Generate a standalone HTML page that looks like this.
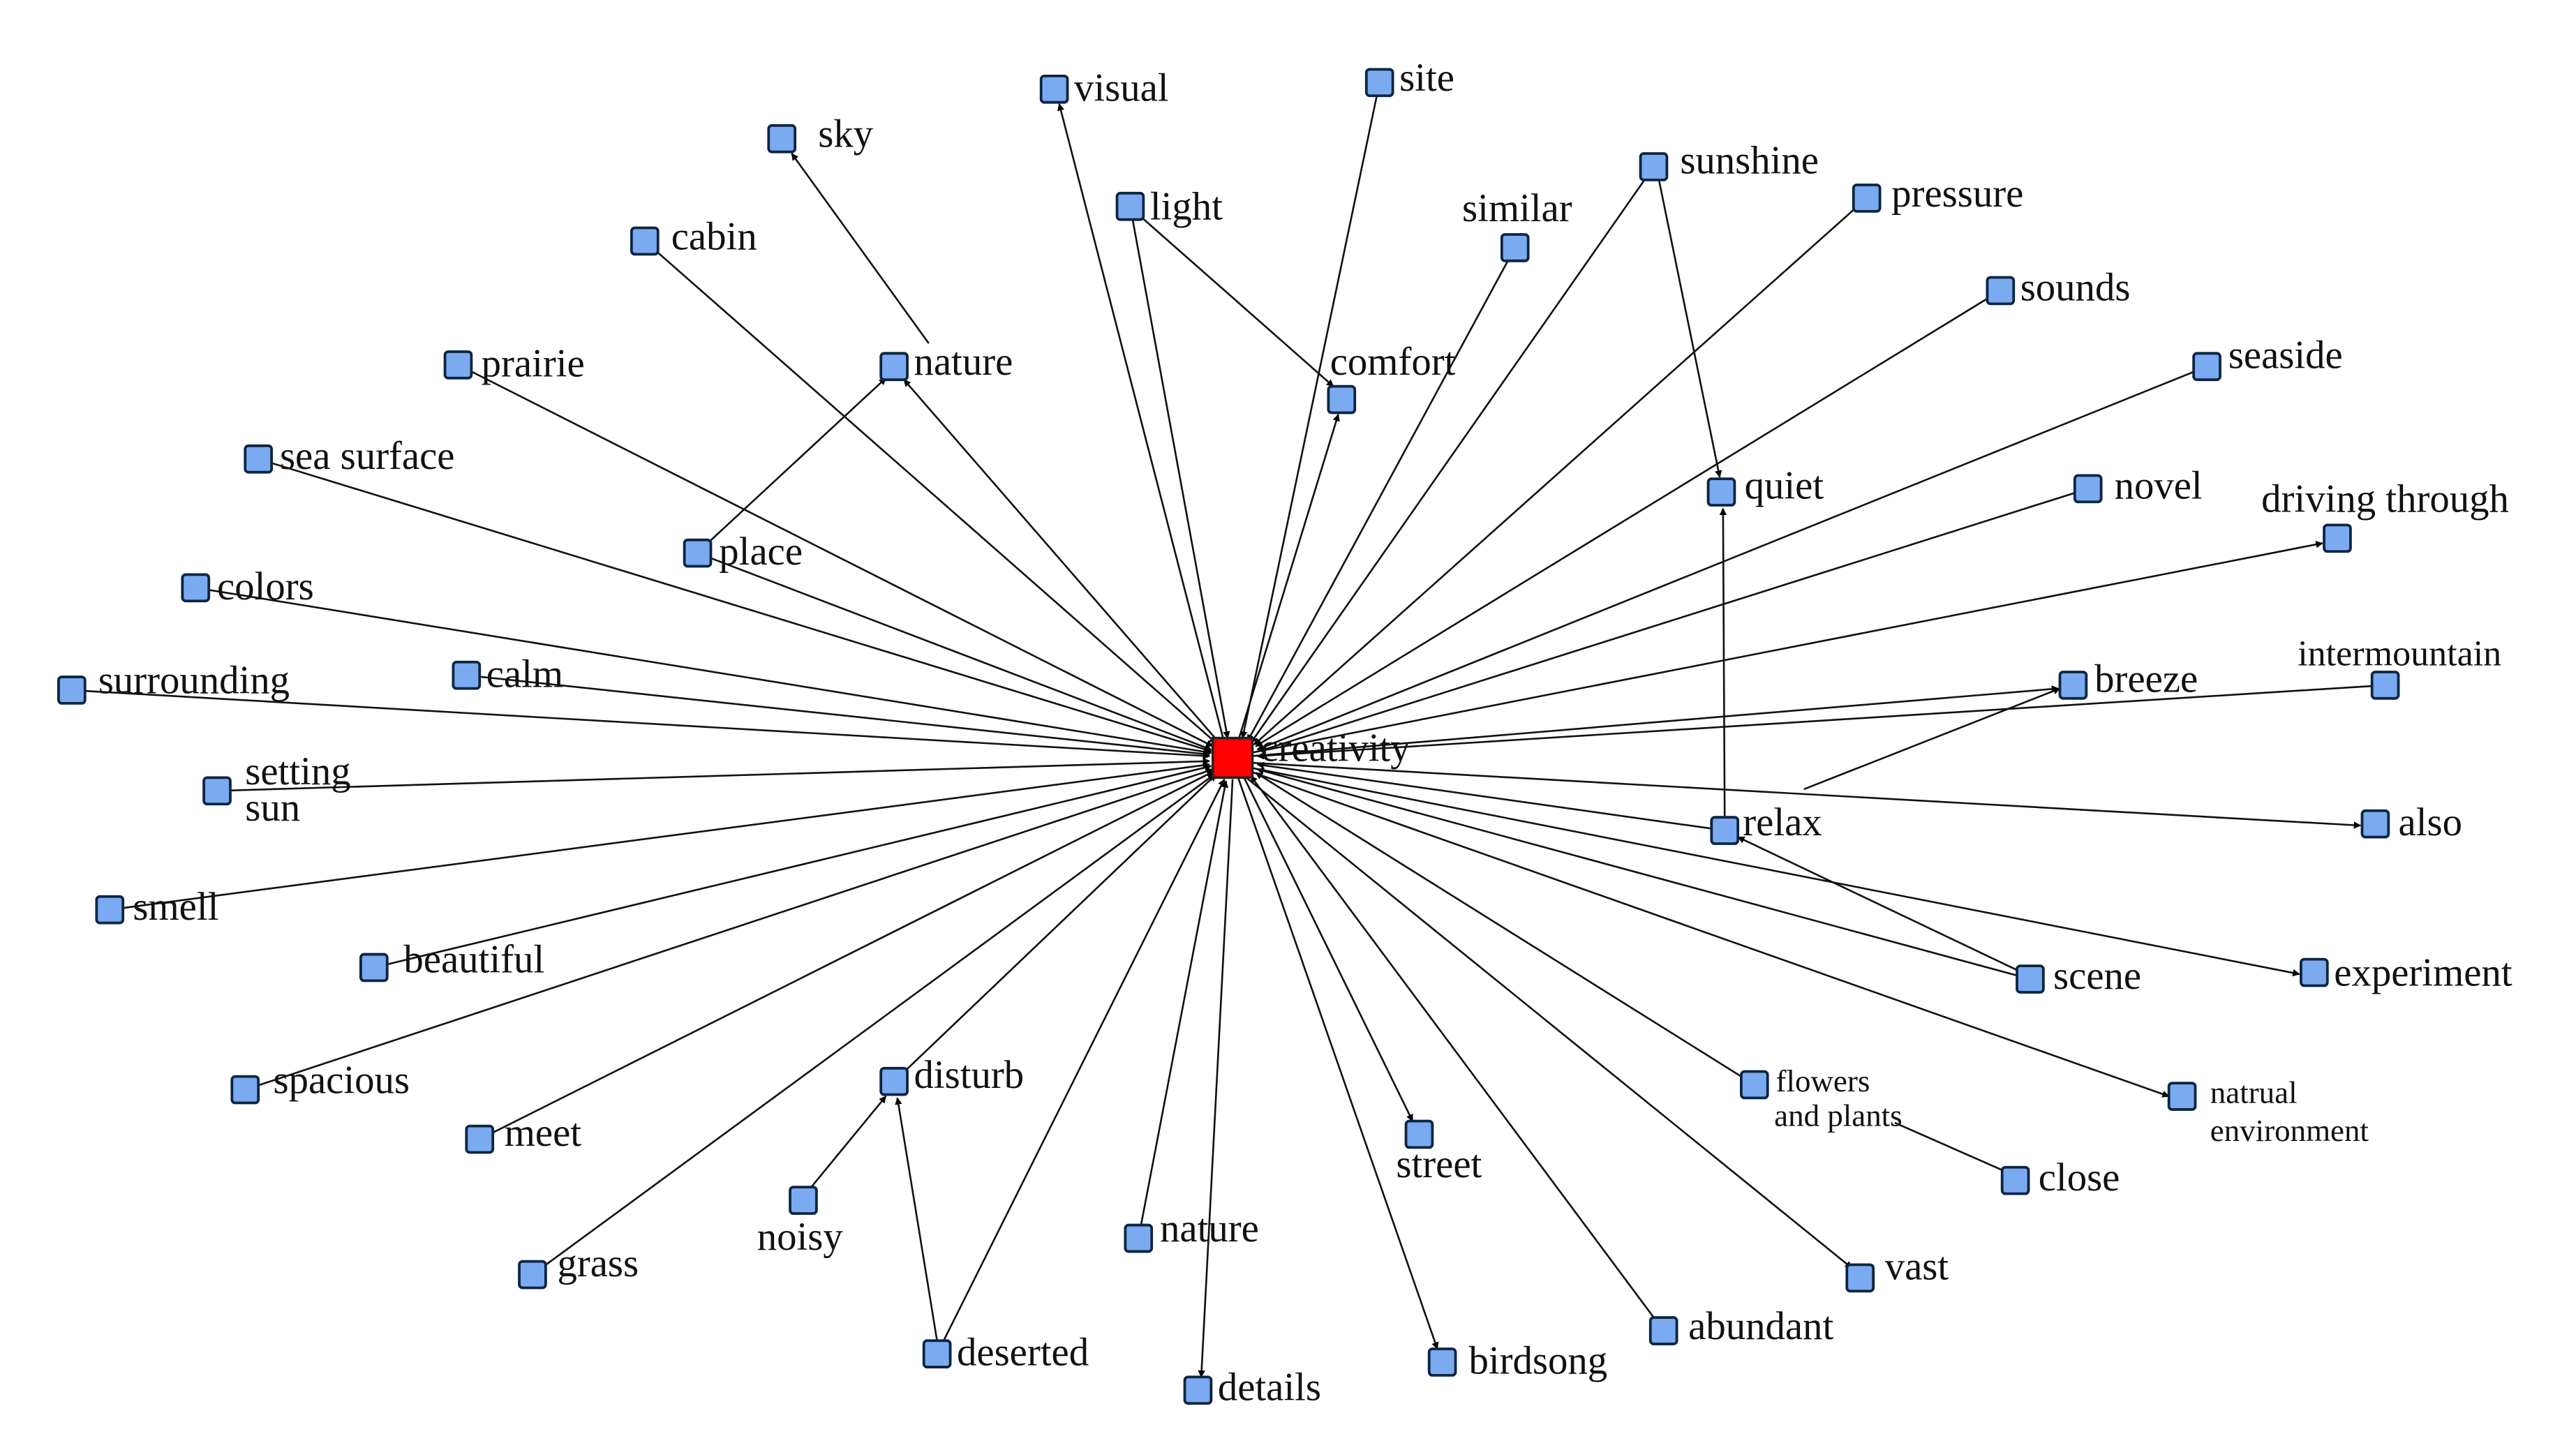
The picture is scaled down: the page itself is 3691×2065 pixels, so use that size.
<!DOCTYPE html>
<html><head><meta charset="utf-8"><style>
html,body{margin:0;padding:0;background:#fff;width:3691px;height:2065px;overflow:hidden}
svg{display:block}
text{font-family:"Liberation Serif",serif;font-size:24px;fill:#111}
</style></head><body>
<svg width="3691" height="2065" viewBox="0 0 3691 2065">
<defs>
<marker id="a" viewBox="0 0 10 10" refX="9" refY="5" markerWidth="4" markerHeight="4" orient="auto"><path d="M0,0L10,5L0,10z" fill="#000"/></marker>
</defs>
<g transform="translate(-6,0) scale(2.366)">
<g stroke="#111" stroke-width="1.1" fill="none">
<line x1="838" y1="50" x2="755" y2="447" marker-end="url(#a)"/>
<line x1="687" y1="125" x2="746" y2="447" marker-end="url(#a)"/>
<line x1="920" y1="150" x2="758" y2="449" marker-end="url(#a)"/>
<line x1="1004" y1="101" x2="760" y2="450" marker-end="url(#a)"/>
<line x1="1133" y1="120" x2="762" y2="451" marker-end="url(#a)"/>
<line x1="393" y1="146" x2="739" y2="450" marker-end="url(#a)"/>
<line x1="1214" y1="176" x2="763" y2="452" marker-end="url(#a)"/>
<line x1="1339" y1="222" x2="764" y2="454" marker-end="url(#a)"/>
<line x1="280" y1="221" x2="737" y2="452" marker-end="url(#a)"/>
<line x1="159" y1="278" x2="736" y2="455" marker-end="url(#a)"/>
<line x1="1267" y1="296" x2="765" y2="455" marker-end="url(#a)"/>
<line x1="425" y1="335" x2="736" y2="454" marker-end="url(#a)"/>
<line x1="121" y1="356" x2="736" y2="456" marker-end="url(#a)"/>
<line x1="46" y1="418" x2="735" y2="458" marker-end="url(#a)"/>
<line x1="285" y1="409" x2="735" y2="457" marker-end="url(#a)"/>
<line x1="1447" y1="415" x2="764" y2="458" marker-end="url(#a)"/>
<line x1="134" y1="479" x2="735" y2="461" marker-end="url(#a)"/>
<line x1="1047" y1="503" x2="764" y2="463" marker-end="url(#a)"/>
<line x1="69" y1="551" x2="735" y2="463" marker-end="url(#a)"/>
<line x1="229" y1="586" x2="736" y2="464" marker-end="url(#a)"/>
<line x1="1232" y1="593" x2="764" y2="466" marker-end="url(#a)"/>
<line x1="151" y1="660" x2="737" y2="466" marker-end="url(#a)"/>
<line x1="544" y1="655" x2="739" y2="469" marker-end="url(#a)"/>
<line x1="1065" y1="657" x2="763" y2="468" marker-end="url(#a)"/>
<line x1="293" y1="690" x2="738" y2="467" marker-end="url(#a)"/>
<line x1="692" y1="750" x2="745" y2="473" marker-end="url(#a)"/>
<line x1="325" y1="772" x2="738" y2="469" marker-end="url(#a)"/>
<line x1="1010" y1="806" x2="760" y2="470" marker-end="url(#a)"/>
<line x1="570" y1="820" x2="744" y2="472" marker-end="url(#a)"/>
<line x1="744" y1="450" x2="644" y2="63" marker-end="url(#a)"/>
<line x1="741" y1="450" x2="550" y2="230" marker-end="url(#a)"/>
<line x1="752" y1="450" x2="813" y2="251" marker-end="url(#a)"/>
<line x1="760" y1="456" x2="1409" y2="329" marker-end="url(#a)"/>
<line x1="760" y1="458" x2="1249" y2="417" marker-end="url(#a)"/>
<line x1="760" y1="462" x2="1432" y2="500" marker-end="url(#a)"/>
<line x1="760" y1="465" x2="1395" y2="590" marker-end="url(#a)"/>
<line x1="759" y1="467" x2="1316" y2="664" marker-end="url(#a)"/>
<line x1="755" y1="469" x2="858" y2="679" marker-end="url(#a)"/>
<line x1="756" y1="470" x2="1124" y2="768" marker-end="url(#a)"/>
<line x1="752" y1="470" x2="873" y2="817" marker-end="url(#a)"/>
<line x1="749" y1="472" x2="730" y2="834" marker-end="url(#a)"/>
<line x1="565" y1="208" x2="482" y2="93" marker-end="url(#a)"/>
<line x1="692" y1="130" x2="810" y2="234" marker-end="url(#a)"/>
<line x1="1007" y1="108" x2="1044" y2="289" marker-end="url(#a)"/>
<line x1="1047" y1="495" x2="1046" y2="308" marker-end="url(#a)"/>
<line x1="1095" y1="478" x2="1250" y2="417" marker-end="url(#a)"/>
<line x1="1225" y1="588" x2="1055" y2="507" marker-end="url(#a)"/>
<line x1="430" y1="330" x2="539" y2="229" marker-end="url(#a)"/>
<line x1="493" y1="720" x2="539" y2="664" marker-end="url(#a)"/>
<line x1="570" y1="812" x2="546" y2="665" marker-end="url(#a)"/>
<line x1="1150" y1="680" x2="1218" y2="710"/>
</g>
<g fill="#7aaaf0" stroke="#0d2540" stroke-width="1.6">
<rect x="633" y="46" width="16" height="16" rx="2"/>
<rect x="830" y="42" width="16" height="16" rx="2"/>
<rect x="468" y="76" width="16" height="16" rx="2"/>
<rect x="679" y="117" width="16" height="16" rx="2"/>
<rect x="912" y="142" width="16" height="16" rx="2"/>
<rect x="996" y="93" width="16" height="16" rx="2"/>
<rect x="1125" y="112" width="16" height="16" rx="2"/>
<rect x="385" y="138" width="16" height="16" rx="2"/>
<rect x="1206" y="168" width="16" height="16" rx="2"/>
<rect x="1331" y="214" width="16" height="16" rx="2"/>
<rect x="272" y="213" width="16" height="16" rx="2"/>
<rect x="536" y="214" width="16" height="16" rx="2"/>
<rect x="807" y="234" width="16" height="16" rx="2"/>
<rect x="151" y="270" width="16" height="16" rx="2"/>
<rect x="1037" y="290" width="16" height="16" rx="2"/>
<rect x="1259" y="288" width="16" height="16" rx="2"/>
<rect x="1410" y="318" width="16" height="16" rx="2"/>
<rect x="417" y="327" width="16" height="16" rx="2"/>
<rect x="113" y="348" width="16" height="16" rx="2"/>
<rect x="38" y="410" width="16" height="16" rx="2"/>
<rect x="277" y="401" width="16" height="16" rx="2"/>
<rect x="1250" y="407" width="16" height="16" rx="2"/>
<rect x="1439" y="407" width="16" height="16" rx="2"/>
<rect x="126" y="471" width="16" height="16" rx="2"/>
<rect x="1039" y="495" width="16" height="16" rx="2"/>
<rect x="1433" y="491" width="16" height="16" rx="2"/>
<rect x="61" y="543" width="16" height="16" rx="2"/>
<rect x="221" y="578" width="16" height="16" rx="2"/>
<rect x="1224" y="585" width="16" height="16" rx="2"/>
<rect x="1396" y="581" width="16" height="16" rx="2"/>
<rect x="143" y="652" width="16" height="16" rx="2"/>
<rect x="536" y="647" width="16" height="16" rx="2"/>
<rect x="1057" y="649" width="16" height="16" rx="2"/>
<rect x="1316" y="656" width="16" height="16" rx="2"/>
<rect x="854" y="679" width="16" height="16" rx="2"/>
<rect x="285" y="682" width="16" height="16" rx="2"/>
<rect x="1215" y="707" width="16" height="16" rx="2"/>
<rect x="481" y="719" width="16" height="16" rx="2"/>
<rect x="684" y="742" width="16" height="16" rx="2"/>
<rect x="317" y="764" width="16" height="16" rx="2"/>
<rect x="1121" y="766" width="16" height="16" rx="2"/>
<rect x="1002" y="798" width="16" height="16" rx="2"/>
<rect x="562" y="812" width="16" height="16" rx="2"/>
<rect x="868" y="817" width="16" height="16" rx="2"/>
<rect x="720" y="834" width="16" height="16" rx="2"/>
</g>
<rect x="737" y="447" width="24" height="24" fill="#ff0000" stroke="#222" stroke-width="1.5"/>
<g>
<text x="766" y="461">creativity</text>
<text x="653" y="61">visual</text>
<text x="850" y="55">site</text>
<text x="498" y="89">sky</text>
<text x="699" y="133">light</text>
<text x="888" y="134">similar</text>
<text x="1020" y="105">sunshine</text>
<text x="1148" y="125">pressure</text>
<text x="409" y="151">cabin</text>
<text x="1226" y="182">sounds</text>
<text x="1352" y="223">seaside</text>
<text x="294" y="228">prairie</text>
<text x="556" y="227">nature</text>
<text x="808" y="227">comfort</text>
<text x="172" y="284">sea surface</text>
<text x="1059" y="302">quiet</text>
<text x="1283" y="302">novel</text>
<text x="1372" y="310">driving through</text>
<text x="438" y="342">place</text>
<text x="134" y="363">colors</text>
<text x="62" y="420">surrounding</text>
<text x="297" y="416">calm</text>
<text x="1271" y="419">breeze</text>
<text x="1394" y="403" style="font-size:22px">intermountain</text>
<text x="151" y="475">setting</text>
<text x="151" y="497">sun</text>
<text x="1058" y="506">relax</text>
<text x="1455" y="506">also</text>
<text x="83" y="557">smell</text>
<text x="247" y="589">beautiful</text>
<text x="1246" y="599">scene</text>
<text x="1416" y="597">experiment</text>
<text x="168" y="662">spacious</text>
<text x="556" y="659">disturb</text>
<text x="1078" y="661" style="font-size:19px">flowers</text>
<text x="1077" y="682" style="font-size:19px">and plants</text>
<text x="1341" y="668" style="font-size:19px">natrual</text>
<text x="1341" y="691" style="font-size:19px">environment</text>
<text x="848" y="713">street</text>
<text x="308" y="694">meet</text>
<text x="1237" y="721">close</text>
<text x="461" y="757">noisy</text>
<text x="705" y="752">nature</text>
<text x="340" y="773">grass</text>
<text x="1144" y="775">vast</text>
<text x="1025" y="811">abundant</text>
<text x="582" y="827">deserted</text>
<text x="892" y="832">birdsong</text>
<text x="740" y="848">details</text>
</g>
</g>
</svg>
</body></html>
